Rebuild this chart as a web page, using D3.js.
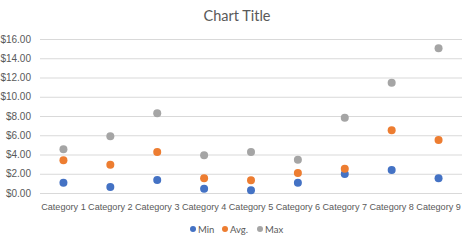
<!DOCTYPE html>
<html><head><meta charset="utf-8">
<script src="https://cdn.jsdelivr.net/npm/d3@7/dist/d3.min.js"></script>
<style>html,body{margin:0;padding:0;background:#fff;}svg{display:block;font-family:Lato, "Open Sans", sans-serif;}</style>
</head><body>
<script>
const categories = ["Category 1","Category 2","Category 3","Category 4","Category 5","Category 6","Category 7","Category 8","Category 9"];
const minValues = [1.07,0.62,1.35,0.45,0.28,1.07,1.97,2.39,1.52];
const avgValues = [3.39,2.94,4.26,1.52,1.32,2.08,2.53,6.51,5.51];
const maxValues = [4.54,5.89,8.28,3.91,4.26,3.46,7.83,11.46,15.03];
const seriesNames = ["Min","Avg.","Max"];
const yTicks = [0,2,4,6,8,10,12,14,16];
const colors = ["#4472C4","#ED7D31","#A5A5A5"];
const series = [minValues, avgValues, maxValues];

const W = 474, H = 245;
const svg = d3.select("body").append("svg").attr("width", W).attr("height", H);
const x = d3.scaleBand().domain(categories).range([40, 462]);
const y = d3.scaleLinear().domain([0,16]).range([193, 39]);

svg.append("text").attr("x", 237).attr("y", 21).attr("text-anchor","middle")
  .attr("font-size", 14.5).attr("fill", "#595959").text("Chart Title");

const yAxis = d3.axisLeft(y).tickValues(yTicks).tickSize(-(462-40)).tickFormat(d => "$" + d3.format(".2f")(d));
const gy = svg.append("g").attr("transform","translate(40,0)").call(yAxis);
gy.select(".domain").remove();
gy.selectAll(".tick line").attr("stroke","#D9D9D9").attr("stroke-width",1);
gy.selectAll(".tick text").attr("x", -9).attr("fill","#595959").attr("font-size", 10);

const xAxis = d3.axisBottom(x).tickSize(0);
const gx = svg.append("g").attr("transform","translate(0,193)").call(xAxis);
gx.select(".domain").remove();
gx.selectAll(".tick text").attr("dy", 0).attr("y", 16.5).attr("fill","#595959").attr("font-size", 9.1);

series.forEach((vals, si) => {
  svg.append("g").selectAll("circle").data(vals).join("circle")
    .attr("cx", (d,i) => x(categories[i]) + x.bandwidth()/2)
    .attr("cy", d => y(d))
    .attr("r", 4)
    .attr("fill", colors[si]);
});

const legendPos = [193, 225, 260];
const lg = svg.append("g");
seriesNames.forEach((n, i) => {
  lg.append("circle").attr("cx", legendPos[i]).attr("cy", 229).attr("r", 3).attr("fill", colors[i]);
  lg.append("text").attr("x", legendPos[i] + 5).attr("y", 232.5).attr("font-size", 9.5).attr("fill","#595959").text(n);
});
</script>
</body></html>
